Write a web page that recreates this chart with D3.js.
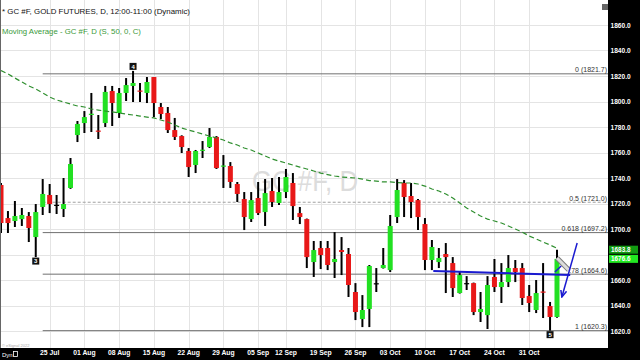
<!DOCTYPE html>
<html><head><meta charset="utf-8">
<script src="https://cdn.jsdelivr.net/npm/d3@7"></script>
<style>body{margin:0;background:#fff}svg{display:block;font-family:Arial,"Liberation Sans",sans-serif}</style>
</head><body><svg id="c" width="640" height="360"></svg>
<script>
const dates = ["2022-07-14","2022-07-15","2022-07-18","2022-07-19","2022-07-20","2022-07-21","2022-07-22","2022-07-25","2022-07-26","2022-07-27","2022-07-28","2022-07-29","2022-08-01","2022-08-02","2022-08-03","2022-08-04","2022-08-05","2022-08-08","2022-08-09","2022-08-10","2022-08-11","2022-08-12","2022-08-15","2022-08-16","2022-08-17","2022-08-18","2022-08-19","2022-08-22","2022-08-23","2022-08-24","2022-08-25","2022-08-26","2022-08-29","2022-08-30","2022-08-31","2022-09-01","2022-09-02","2022-09-06","2022-09-07","2022-09-08","2022-09-09","2022-09-12","2022-09-13","2022-09-14","2022-09-15","2022-09-16","2022-09-19","2022-09-20","2022-09-21","2022-09-22","2022-09-23","2022-09-26","2022-09-27","2022-09-28","2022-09-29","2022-09-30","2022-10-03","2022-10-04","2022-10-05","2022-10-06","2022-10-07","2022-10-10","2022-10-11","2022-10-12","2022-10-13","2022-10-14","2022-10-17","2022-10-18","2022-10-19","2022-10-20","2022-10-21","2022-10-24","2022-10-25","2022-10-26","2022-10-27","2022-10-28","2022-10-31","2022-11-01","2022-11-02","2022-11-03","2022-11-04"];
const open = [1734.5,1708.6,1706.3,1707.8,1710.2,1693.7,1717.3,1726.7,1719.0,1715.7,
1732.2,1773.7,1783.1,1790.0,1777.2,1783.1,1808.2,1791.0,1806.7,1812.2,
1808.6,1806.7,1819.2,1795.7,1791.0,1777.6,1772.9,1761.2,1750.2,1761.6,
1764.3,1772.2,1749.2,1749.4,1735.3,1723.5,1707.8,1724.3,1713.3,1729.8,
1720.4,1729.0,1736.1,1712.5,1707.8,1674.1,1685.1,1685.1,1674.1,1683.5,
1680.4,1650.6,1629.4,1637.3,1657.5,1669.4,1667.8,1709.4,1736.1,1725.9,
1722.7,1703.9,1675.7,1674.1,1680.4,1673.3,1649.8,1657.6,1657.6,1634.9,
1632.5,1662.4,1654.5,1658.4,1669.4,1669.4,1647.5,1636.5,1651.0,1639.6,1631.0];
const high = [1736.1,1714.1,1722.0,1716.5,1713.3,1719.6,1739.2,1735.3,1726.7,1740.0,
1755.7,1784.7,1792.5,1806.7,1789.4,1812.2,1812.2,1810.6,1818.4,1824.0,
1814.5,1819.2,1819.2,1798.8,1795.7,1787.1,1773.5,1763.5,1762.0,1769.0,
1779.2,1772.9,1758.0,1752.5,1736.9,1729.0,1729.0,1736.9,1739.2,1740.0,
1740.8,1747.1,1743.9,1717.3,1708.2,1690.6,1690.6,1690.6,1697.6,1693.7,
1685.1,1657.6,1648.2,1671.8,1669.4,1685.1,1711.0,1739.2,1738.4,1736.1,
1723.5,1708.6,1691.4,1685.1,1689.0,1678.0,1667.1,1663.1,1658.0,1650.6,
1663.1,1676.5,1673.3,1679.6,1675.7,1673.3,1656.1,1660.0,1673.3,1642.8,1683.8];
const low = [1696.9,1696.9,1701.6,1702.4,1689.8,1678.0,1711.0,1712.5,1711.8,1709.4,
1731.5,1768.2,1775.3,1776.1,1770.6,1780.0,1780.8,1787.1,1800.4,1799.6,
1799.6,1798.8,1787.8,1786.3,1775.3,1769.8,1759.6,1740.8,1743.9,1755.7,
1763.5,1747.1,1732.2,1732.2,1721.2,1699.2,1705.5,1711.0,1702.4,1717.3,
1718.8,1724.3,1707.1,1703.9,1669.4,1662.4,1668.6,1667.8,1661.6,1663.9,
1646.7,1628.6,1623.1,1623.1,1650.6,1669.0,1666.3,1704.7,1709.4,1708.6,
1699.2,1667.8,1667.8,1669.4,1649.8,1646.7,1649.4,1652.2,1632.5,1627.1,
1621.6,1650.6,1642.0,1654.5,1658.4,1640.4,1634.9,1634.1,1630.2,1620.3,1630.5];
const close = [1704.7,1704.7,1710.2,1711.0,1700.8,1713.3,1727.5,1719.6,1719.0,1719.6,
1751.0,1782.4,1787.8,1790.4,1776.6,1807.5,1798.8,1806.7,1812.9,1814.5,
1808.0,1815.3,1798.8,1790.2,1777.6,1772.2,1764.3,1748.6,1761.2,1762.2,
1772.2,1747.8,1749.8,1736.9,1727.5,1709.4,1722.7,1712.5,1728.2,1721.2,
1729.0,1740.8,1718.0,1709.4,1678.0,1683.5,1679.6,1671.8,1676.5,1682.0,
1656.1,1634.9,1636.5,1671.0,1657.5,1671.8,1702.4,1730.6,1725.1,1721.2,
1709.4,1675.7,1685.9,1677.3,1678.0,1653.7,1663.9,1657.6,1634.9,1637.3,
1656.1,1654.5,1658.4,1669.4,1666.3,1645.9,1642.0,1649.8,1650.4,1631.0,1676.6];
const ma50 = [1824.3,1821.6,1818.4,1815.3,1812.2,1809.8,1806.7,1803.5,1801.2,1799.6,
1798.0,1796.5,1795.7,1794.1,1793.3,1792.5,1791.8,1791.0,1790.2,1789.4,
1788.6,1787.8,1787.1,1785.5,1783.9,1781.6,1779.2,1777.6,1776.1,1774.5,
1772.9,1771.4,1769.8,1767.5,1765.9,1763.5,1762.0,1759.6,1757.3,1754.9,
1753.3,1751.8,1750.2,1748.6,1747.1,1745.5,1743.9,1742.7,1741.6,1740.8,
1740.4,1740.0,1739.2,1738.0,1737.6,1736.9,1736.9,1736.5,1736.1,1736.1,
1735.3,1733.7,1731.4,1729.8,1727.5,1724.3,1720.4,1716.5,1713.3,1710.2,
1707.8,1706.3,1704.7,1702.4,1700.0,1697.6,1694.5,1692.2,1689.8,1687.5,1684.9];
const yTicks = [1620,1640,1660,1680,1700,1720,1740,1760,1780,1800,1820,1840,1860];
const tickDates = ["2022-07-25","2022-08-01","2022-08-08","2022-08-15","2022-08-22","2022-08-29","2022-09-06","2022-09-12","2022-09-19","2022-09-26","2022-10-03","2022-10-10","2022-10-17","2022-10-24","2022-10-31"];
const tickLabels = ["25 Jul","01 Aug","08 Aug","15 Aug","22 Aug","29 Aug","05 Sep","12 Sep","19 Sep","26 Sep","03 Oct","10 Oct","17 Oct","24 Oct","31 Oct"];
const fibRatios = ["0","0.5","0.618",".78","1"];
const fibValues = [1821.7,1721.0,1697.2,1664.6,1620.3];
const fibStart = "2022-07-22";
const pivotLabels = ["3","4","5"];
const pivotDates = ["2022-07-21","2022-08-10","2022-11-03"];
const pivotSide = ["below","above","below"];
const lastHigh = 1683.8, lastClose = 1676.6;
const blueLevelIdx = [62.2, 81.9], blueLevelVal = [1667.1, 1663.9];
const blueArrowIdx = [82.9, 80.7], blueArrowVal = [1689.0, 1646.7];
const blueTickIdx = [79.7, 80.6], blueTickVal = [1666.3, 1671.0];
const grayArrowIdx = [80.0, 81.7], grayArrowVal = [1677.3, 1667.8];

const svg = d3.select("#c");
const PR = 608, PB = 348;
const x = d3.scaleBand().domain(dates).range([-2.475, 560.475]).padding(0);
const cx = d => x(d) + x.bandwidth()/2;
const xi = i => x.range()[0] + x.step()*(i+0.5);
const y = d3.scaleLinear().domain([1606.7, 1879.6]).range([PB, 0]);
const GREEN = "#22e022", RED = "#e81818";

svg.append("defs").append("clipPath").attr("id","pc").append("rect").attr("x",1).attr("y",0).attr("width",PR-1).attr("height",PB);
const plot = svg.append("g").attr("clip-path","url(#pc)");

// grid
plot.append("g").selectAll("line").data(yTicks).join("line")
  .attr("x1",0).attr("x2",PR).attr("y1",d=>Math.round(y(d))+0.5).attr("y2",d=>Math.round(y(d))+0.5)
  .attr("stroke","#e4e4e4").attr("stroke-width",1);
plot.append("g").selectAll("line").data(tickDates).join("line")
  .attr("x1",d=>Math.round(cx(d))+0.5).attr("x2",d=>Math.round(cx(d))+0.5).attr("y1",0).attr("y2",PB)
  .attr("stroke","#e4e4e4").attr("stroke-width",1);

// watermark
plot.append("text").attr("x",305).attr("y",191).attr("text-anchor","middle")
  .attr("font-size",30).attr("fill","#dcdcdc").attr("textLength",106).attr("lengthAdjust","spacingAndGlyphs")
  .text("GC #F, D");

// fib lines
const fib = plot.append("g");
fibValues.forEach((v,k)=>{
  fib.append("line").attr("x1",cx(fibStart)).attr("x2",PR).attr("y1",y(v)).attr("y2",y(v))
    .attr("stroke", fibRatios[k]==="0.5" ? "#a0a0a0" : "#707070").attr("stroke-width",1)
    .attr("stroke-dasharray", fibRatios[k]==="0.5" ? "3,2" : null);
});

// candles
const idx = d3.range(dates.length);
const cg = plot.append("g");
cg.selectAll("line.w").data(idx).join("line").attr("class","w")
  .attr("x1",i=>cx(dates[i])).attr("x2",i=>cx(dates[i]))
  .attr("y1",i=>y(high[i])).attr("y2",i=>y(low[i]))
  .attr("stroke","#000").attr("stroke-width",2);
cg.selectAll("rect").data(idx).join("rect")
  .attr("x",i=>cx(dates[i])-2.5).attr("width",5)
  .attr("y",i=>y(Math.max(open[i],close[i])))
  .attr("height",i=>Math.max(1.2, Math.abs(y(open[i])-y(close[i]))))
  .attr("fill",i=> close[i]>open[i] ? GREEN : close[i]<open[i] ? RED : "#000");

// moving average
plot.append("path").datum(idx)
  .attr("d", d3.line().x(i=>cx(dates[i])).y(i=>y(ma50[i])))
  .attr("fill","none").attr("stroke","#2f8f2f").attr("stroke-width",1.2).attr("stroke-dasharray","5,3");

// annotations
const defs = svg.select("defs");
defs.append("marker").attr("id","ah").attr("viewBox","0 0 10 10").attr("refX",9).attr("refY",5)
  .attr("markerWidth",5).attr("markerHeight",5).attr("orient","auto")
  .append("path").attr("d","M0,1 L9,5 L0,9").attr("fill","none").attr("stroke","#1a1ad0").attr("stroke-width",2);
const seg = (ix, iv) => d3.line()(ix.map((i,k)=>[xi(i), y(iv[k])]));
svg.append("path").attr("d",seg(grayArrowIdx,grayArrowVal)).attr("stroke","#7a7a7a").attr("stroke-width",5).attr("fill","none");
svg.append("path").attr("d",seg(grayArrowIdx,grayArrowVal)).attr("stroke","#dcdcdc").attr("stroke-width",3).attr("fill","none");
svg.append("path").attr("d",seg(blueLevelIdx,blueLevelVal)).attr("stroke","#1a1ad0").attr("stroke-width",2).attr("fill","none");
svg.append("path").attr("d",seg(blueTickIdx,blueTickVal)).attr("stroke","#1a1ad0").attr("stroke-width",1.5).attr("fill","none");
svg.append("path").attr("d",seg(blueArrowIdx,blueArrowVal)).attr("stroke","#1a1ad0").attr("stroke-width",1.5).attr("fill","none").attr("marker-end","url(#ah)");

// fib labels
fibValues.forEach((v,k)=>{
  svg.append("text").attr("x",607).attr("y",y(v)-1.5).attr("text-anchor","end")
    .attr("font-size",7).attr("fill","#333").text(`${fibRatios[k]} (${v.toFixed(1)})`);
});

// pivots
pivotDates.forEach((d,k)=>{
  const i = dates.indexOf(d);
  const top = pivotSide[k]==="above" ? y(high[i])-8 : y(low[i])+0.5;
  svg.append("rect").attr("x",cx(d)-3.5).attr("y",top).attr("width",7).attr("height",7).attr("fill","#111");
  svg.append("text").attr("x",cx(d)).attr("y",top+5.8).attr("text-anchor","middle").attr("font-size",6)
    .attr("font-weight","bold").attr("fill","#fff").text(pivotLabels[k]);
});

// titles
svg.append("text").attr("x",2).attr("y",13.5).attr("font-size",7.9).attr("fill","#111")
  .text("* GC #F, GOLD FUTURES, D, 12:00-11:00 (Dynamic)");
svg.append("text").attr("x",2).attr("y",34).attr("font-size",7.8).attr("fill","#3a9a3a")
  .text("Moving Average - GC #F, D (S, 50, 0, C)");
svg.append("text").attr("x",2).attr("y",346.5).attr("font-size",4).attr("fill","#aaa").text("© eSignal 2022");
svg.append("line").attr("x1",0.5).attr("x2",0.5).attr("y1",0).attr("y2",PB).attr("stroke","#666");
svg.append("rect").attr("x",602).attr("y",4).attr("width",6).attr("height",6).attr("fill","#666");

// right axis panel
svg.append("rect").attr("x",PR).attr("y",0).attr("width",640-PR).attr("height",360).attr("fill","#000");
svg.append("rect").attr("x",0).attr("y",PB).attr("width",640).attr("height",360-PB).attr("fill","#000");
const labelTicks = yTicks.filter(t => Math.abs(y(t)-y(lastHigh)) > 8 && Math.abs(y(t)-y(lastClose)) > 8);
const ay = svg.append("g").attr("transform",`translate(${PR},0)`)
  .call(d3.axisRight(y).tickValues(labelTicks).tickSize(0).tickPadding(2.5).tickFormat(d3.format(".1f")));
ay.select(".domain").remove();
ay.selectAll("text").attr("fill","#fff").attr("font-size",6.6).attr("font-weight","bold").attr("font-family","Arial, sans-serif");

// last price boxes
[[lastHigh,"#129a12"],[lastClose,"#22e822"]].forEach(([v,c])=>{
  svg.append("rect").attr("x",PR+1).attr("y",y(v)-4).attr("width",29).attr("height",8).attr("fill",c);
  svg.append("text").attr("x",PR+3).attr("y",y(v)+2.3).attr("font-size",6.4).attr("font-weight","bold").attr("fill","#fff").text(v.toFixed(1));
});

// bottom axis
const ax = svg.append("g").attr("transform",`translate(0,${PB})`)
  .call(d3.axisBottom(x).tickValues(tickDates).tickSize(0).tickPadding(2.5).tickFormat(d=>tickLabels[tickDates.indexOf(d)]));
ax.select(".domain").remove();
ax.selectAll("text").attr("fill","#fff").attr("font-size",6.8).attr("font-weight","bold").attr("font-family","Arial, sans-serif");
svg.append("text").attr("x",2).attr("y",357).attr("font-size",6).attr("fill","#fff").text("Dyn");
svg.append("rect").attr("x",13.5).attr("y",351.5).attr("width",4).attr("height",5).attr("fill","none").attr("stroke","#fff").attr("stroke-width",0.8);
</script></body></html>
